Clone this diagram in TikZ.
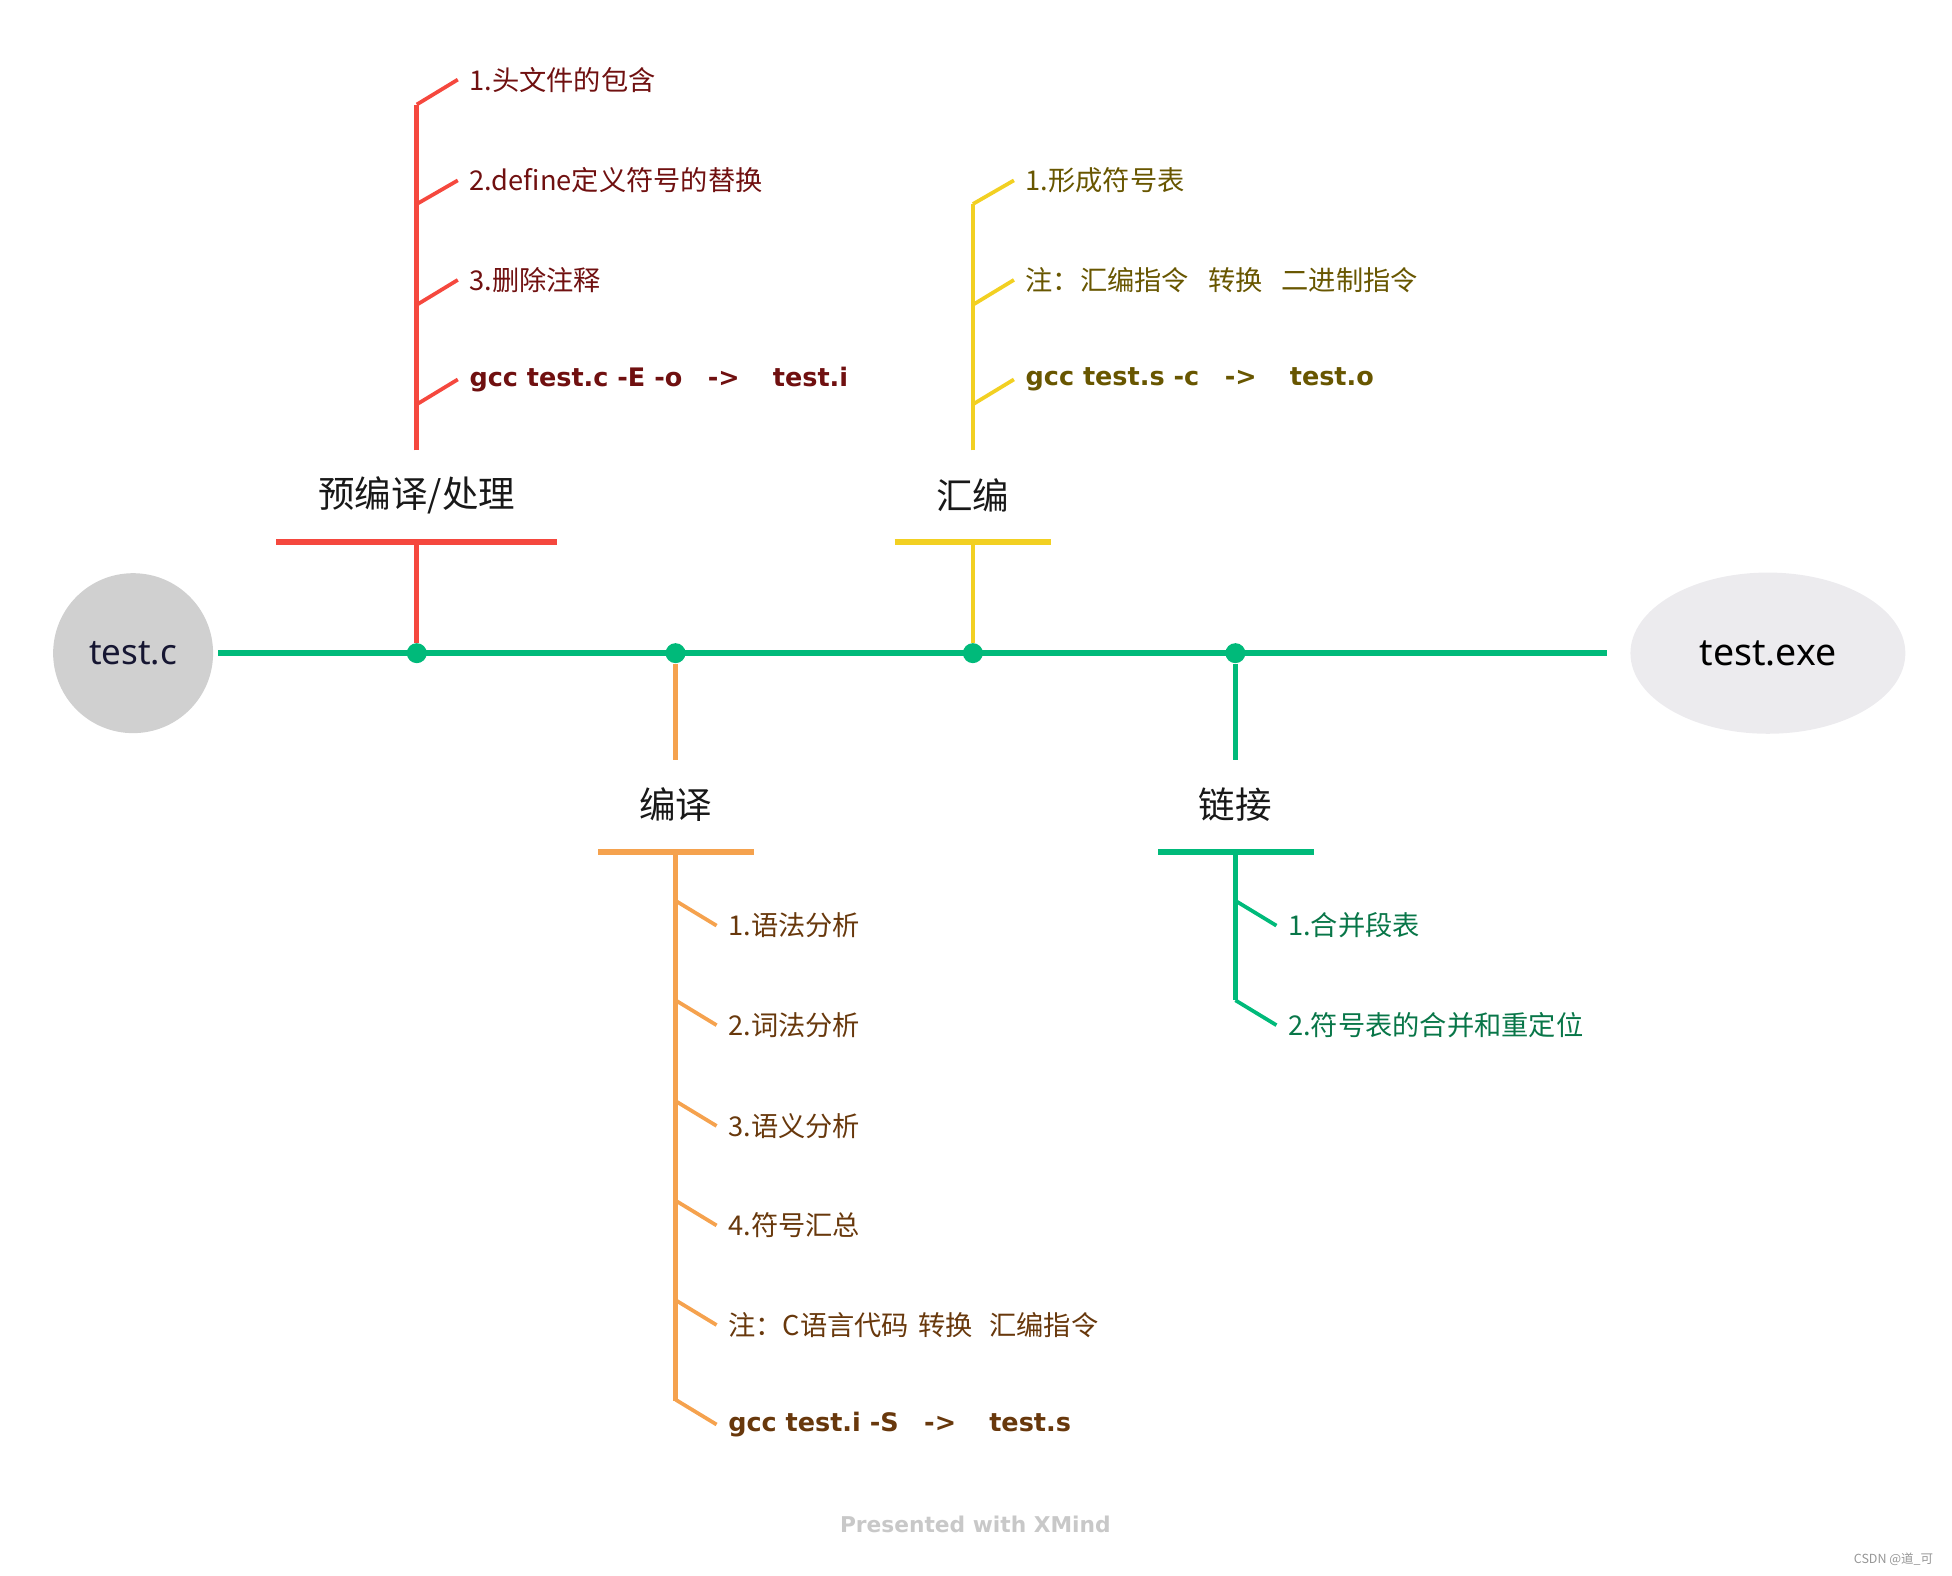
\documentclass[tikz,border=0pt]{standalone}
\usepackage{fontspec}
\setmainfont{Noto Sans CJK SC}
\newfontfamily\gccfont{Noto Sans}
\newfontfamily\gccbold{DejaVu Sans}
\usetikzlibrary{positioning}
\usetikzlibrary{shapes.geometric}

\definecolor{spinegreen}{RGB}{0,186,122}
\definecolor{prered}{RGB}{245,72,62}
\definecolor{asmyellow}{RGB}{242,208,34}
\definecolor{ccorange}{RGB}{245,162,78}
\definecolor{redtext}{RGB}{112,16,16}
\definecolor{yellowtext}{RGB}{104,86,0}
\definecolor{orangetext}{RGB}{104,56,12}
\definecolor{greentext}{RGB}{8,118,72}
\definecolor{topictext}{RGB}{24,24,24}

\begin{document}
\begin{tikzpicture}[
                x=0.4978pt, y=-0.4978pt,
                spine/.style = {line width = 2.4pt, draw = spinegreen},
                dot/.style = {
                    circle,
                    fill = spinegreen,
                    minimum size = 8pt,
                    inner sep = 0pt
                },
                bar/.style = {line width = 2.4pt, draw = #1},
                stem/.style = {line width = 1.9pt, draw = #1},
                twig/.style = {line width = 1.5pt, draw = #1},
                topic/.style = {font = \fontsize{14.6}{17}\selectfont, text = topictext, inner sep = 0pt},
                item/.style = {font = \fontsize{10.9}{13}\selectfont, text = #1, anchor = west, inner sep = 0pt},
                gcc/.style = {item = #1, font = \gccbold\bfseries\fontsize{10.2}{13}\selectfont}
            ]
            \useasboundingbox (0,0) rectangle (1569,1266.6);
            % 
            \node[circle, fill = {rgb,255:red,208;green,208;blue,208}, minimum size = 64pt, inner sep = 0pt, outer sep = 2pt,
                  font = \gccfont\fontsize{14}{16}\selectfont, text = {rgb,255:red,22;green,22;blue,50}] (src) at (107,525) {test.c};
            \node[ellipse, fill = {rgb,255:red,236;green,235;blue,238}, minimum width = 110pt, minimum height = 64.5pt, inner sep = 0pt, outer sep = 9.5pt,
                  font = \gccfont\fontsize{15}{17}\selectfont, text = black] (dst) at (1421,525) {test.exe};
            \draw[spine] (src) -- (dst);
            % 
            \node[dot] (d1) at (335,525) {};
            \node[dot] (d2) at (543,525) {};
            \node[dot] (d3) at (782,525) {};
            \node[dot] (d4) at (993,525) {};
            % 
            % 预编译
            \coordinate (b1) at (335,436);
            \coordinate (b1l) at (222,436);
            \coordinate (b1r) at (448,436);
            \node[topic] (h1) at (335,398) {预编译/处理};
            \coordinate (s1bot) at (335,362);
            \coordinate (s1top) at (335,84);
            \node[item = redtext] (r1) at (377,64) {1.头文件的包含};
            \node[item = redtext] (r2) at (377,145) {2.define定义符号的替换};
            \node[item = redtext] (r3) at (377,225) {3.删除注释};
            \node[gcc = redtext] (r4) at (377,305) {gcc test.c -E -o\hspace{1em}->\hspace{1.3em}test.i};
            \coordinate (r1j) at (335,84);
            \coordinate (r2j) at (335,164);
            \coordinate (r3j) at (335,245);
            \coordinate (r4j) at (335,325);
            % 
            % 汇编
            \coordinate (b3) at (782,436);
            \coordinate (b3l) at (719,436);
            \coordinate (b3r) at (845,436);
            \node[topic] (h3) at (782,398) {汇编};
            \coordinate (s3bot) at (782,362);
            \coordinate (s3top) at (782,164);
            \node[item = yellowtext] (y1) at (824,145) {1.形成符号表};
            \node[item = yellowtext] (y2) at (824,225) {注：汇编指令\hspace{0.7em}转换\hspace{0.7em}二进制指令};
            \node[gcc = yellowtext] (y3) at (824,305) {gcc test.s -c\hspace{1em}->\hspace{1.3em}test.o};
            \coordinate (y1j) at (782,164);
            \coordinate (y2j) at (782,245);
            \coordinate (y3j) at (782,325);
            % 
            % 编译
            \coordinate (s2top) at (543,611);
            \node[topic] (h2) at (543,647) {编译};
            \coordinate (b2) at (543,685);
            \coordinate (b2l) at (481,685);
            \coordinate (b2r) at (606,685);
            \coordinate (s2bot) at (543,1126);
            \node[item = orangetext] (o1) at (585,744) {1.语法分析};
            \node[item = orangetext] (o2) at (585,824) {2.词法分析};
            \node[item = orangetext] (o3) at (585,905) {3.语义分析};
            \node[item = orangetext] (o4) at (585,985) {4.符号汇总};
            \node[item = orangetext] (o5) at (585,1065) {注：C语言代码\hspace{0.35em}转换\hspace{0.6em}汇编指令};
            \node[gcc = orangetext] (o6) at (585,1145) {gcc test.i -S\hspace{1em}->\hspace{1.3em}test.s};
            \coordinate (o1j) at (543,724);
            \coordinate (o2j) at (543,804);
            \coordinate (o3j) at (543,885);
            \coordinate (o4j) at (543,965);
            \coordinate (o5j) at (543,1045);
            \coordinate (o6j) at (543,1125);
            % 
            % 链接
            \coordinate (s4top) at (993,611);
            \node[topic] (h4) at (993,647) {链接};
            \coordinate (b4) at (993,685);
            \coordinate (b4l) at (931,685);
            \coordinate (b4r) at (1056,685);
            \coordinate (s4bot) at (993,804);
            \node[item = greentext] (g1) at (1035,744) {1.合并段表};
            \node[item = greentext] (g2) at (1035,824) {2.符号表的合并和重定位};
            \coordinate (g1j) at (993,724);
            \coordinate (g2j) at (993,804);
            % 
            \draw[stem = prered] (d1) -- (b1);
            \draw[bar = prered] (b1l) -- (b1r);
            \draw[stem = prered] (s1bot) -- (s1top);
            \draw[twig = prered] (r1j) -- ([xshift=-4.5pt]r1.west);
            \draw[twig = prered] (r2j) -- ([xshift=-4.5pt]r2.west);
            \draw[twig = prered] (r3j) -- ([xshift=-4.5pt]r3.west);
            \draw[twig = prered] (r4j) -- ([xshift=-4.5pt]r4.west);
            % 
            \draw[stem = asmyellow] (d3) -- (b3);
            \draw[bar = asmyellow] (b3l) -- (b3r);
            \draw[stem = asmyellow] (s3bot) -- (s3top);
            \draw[twig = asmyellow] (y1j) -- ([xshift=-4.5pt]y1.west);
            \draw[twig = asmyellow] (y2j) -- ([xshift=-4.5pt]y2.west);
            \draw[twig = asmyellow] (y3j) -- ([xshift=-4.5pt]y3.west);
            % 
            \draw[stem = ccorange] (d2) -- (s2top);
            \draw[bar = ccorange] (b2l) -- (b2r);
            \draw[stem = ccorange] (b2) -- (s2bot);
            \draw[twig = ccorange] (o1j) -- ([xshift=-4.5pt]o1.west);
            \draw[twig = ccorange] (o2j) -- ([xshift=-4.5pt]o2.west);
            \draw[twig = ccorange] (o3j) -- ([xshift=-4.5pt]o3.west);
            \draw[twig = ccorange] (o4j) -- ([xshift=-4.5pt]o4.west);
            \draw[twig = ccorange] (o5j) -- ([xshift=-4.5pt]o5.west);
            \draw[twig = ccorange] (o6j) -- ([xshift=-4.5pt]o6.west);
            % 
            \draw[stem = spinegreen] (d4) -- (s4top);
            \draw[bar = spinegreen] (b4l) -- (b4r);
            \draw[stem = spinegreen] (b4) -- (s4bot);
            \draw[twig = spinegreen] (g1j) -- ([xshift=-4.5pt]g1.west);
            \draw[twig = spinegreen] (g2j) -- ([xshift=-4.5pt]g2.west);
            % 
            \node[font = \gccbold\bfseries\fontsize{8.7}{11}\selectfont, text = {rgb,255:red,200;green,200;blue,200}] (xmind) at (784,1225) {Presented with XMind};
            \node[font = \fontsize{5}{6}\selectfont, text = {rgb,255:red,150;green,150;blue,150}] (csdn) at (1522,1253) {CSDN @道\_可};
            % 
        \end{tikzpicture}
\end{document}
